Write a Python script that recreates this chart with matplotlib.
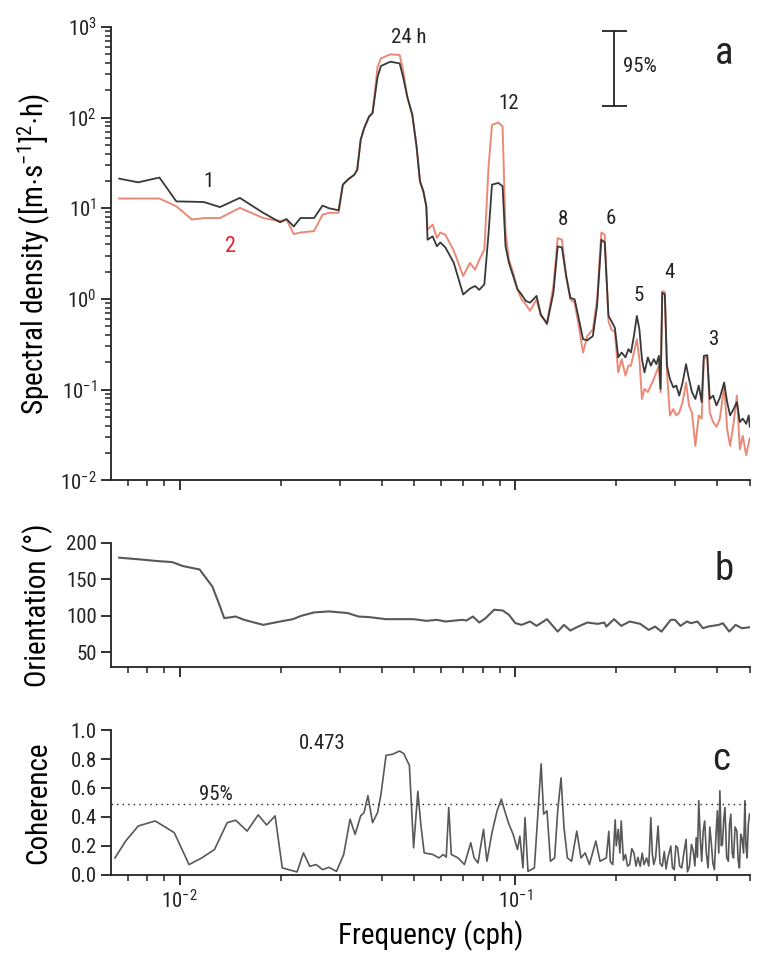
import numpy as np
import matplotlib
matplotlib.use("Agg")
import matplotlib.pyplot as plt
import matplotlib.font_manager as fm
from matplotlib.ticker import LogLocator, NullFormatter, MultipleLocator


def pick_narrow_font():
    # the original uses a condensed grotesque; take the narrowest face available
    names = {f.name for f in fm.fontManager.ttflist}
    for n in ["Liberation Sans Narrow", "Roboto Condensed", "Noto Sans Condensed",
              "Open Sans Condensed", "DejaVu Sans Condensed", "Arial Narrow"]:
        if n in names:
            return n, "normal"
    for n in ["Noto Sans", "Roboto", "Open Sans", "DejaVu Sans", "Liberation Sans"]:
        for f in fm.fontManager.ttflist:
            if (f.name == n and "condensed" in str(f.stretch) and f.style == "normal"
                    and f.weight in (400, "normal", "regular")):
                return n, f.stretch
    return "DejaVu Sans", "normal"


fam, stretch = pick_narrow_font()
plt.rcParams["font.family"] = [fam, "DejaVu Sans"]
plt.rcParams["font.stretch"] = stretch
spec = fam if stretch == "normal" else f"{fam}:stretch={stretch}"
plt.rcParams["mathtext.fontset"] = "custom"
plt.rcParams["mathtext.rm"] = spec
plt.rcParams["mathtext.it"] = spec
plt.rcParams["mathtext.bf"] = spec

# --- panel a: spectral density, series 1 (black) and 2 (red)
freq_a = [0.00660, 0.00752, 0.00870, 0.00977, 0.01088, 0.01180, 0.01318, 0.01511, 0.01773, 0.01992,
          0.02081, 0.02186, 0.02290, 0.02513, 0.02665, 0.02783, 0.02975,
          0.03063, 0.03171, 0.03313, 0.03381, 0.03461, 0.03543, 0.03669, 0.03755, 0.03887, 0.03979,
          0.04242, 0.04523, 0.04629, 0.04764, 0.04933, 0.05079, 0.05199, 0.05321, 0.05431,
          0.05478, 0.05673, 0.05840, 0.05977, 0.06190, 0.06559, 0.06994, 0.07327, 0.07588, 0.07811,
          0.08088, 0.08327, 0.08523, 0.08901, 0.09165, 0.09354, 0.09574, 0.09856, 0.1015, 0.1044,
          0.1075, 0.1107, 0.1157, 0.1191, 0.1243, 0.1299, 0.1338, 0.1377, 0.1418, 0.1459,
          0.1503, 0.1547, 0.1592, 0.1639, 0.1703, 0.1753, 0.1805, 0.1847,
          0.1896, 0.1935, 0.1981, 0.2027, 0.2075, 0.2130, 0.2174, 0.2212, 0.2257, 0.2303,
          0.2344, 0.2385, 0.2427, 0.2484, 0.2535, 0.2587, 0.2633, 0.2679, 0.2710, 0.2742,
          0.2791, 0.2832, 0.2890, 0.2958, 0.3019, 0.3081, 0.3153, 0.3228, 0.3294, 0.3362,
          0.3441, 0.3522, 0.3594, 0.3647, 0.3733, 0.3798, 0.3887, 0.3978, 0.4072, 0.4193,
          0.428, 0.4368, 0.4471, 0.4576, 0.4670, 0.4764, 0.4878, 0.4963, 0.5]

spec_1 = [21.2, 19.3, 21.8, 11.9, 11.8, 11.7, 10.3, 13.0, 8.9, 7.0,
          7.6, 6.3, 7.8, 7.8, 10.7, 10.0, 9.5,
          18.2, 20.7, 23.4, 26.6, 56.8, 76, 103, 112, 282, 370,
          412, 395, 282, 170, 107, 48, 19.8, 15.4, 10.5,
          4.5, 4.9, 3.8, 4.2, 3.7, 2.5, 1.12, 1.30, 1.39, 1.26,
          1.45, 5.4, 18.2, 19.0, 17.5, 3.8, 2.5, 1.79, 1.28, 1.12,
          0.95, 0.91, 1.08, 0.68, 0.53, 1.17, 3.8, 3.7, 1.79, 1.03,
          0.99, 0.60, 0.36, 0.35, 0.39, 0.84, 4.5, 4.2,
          0.65, 0.57, 0.48, 0.227, 0.257, 0.227, 0.28, 0.257, 0.39, 0.65,
          0.46, 0.217, 0.155, 0.227, 0.184, 0.217, 0.191, 0.236, 0.102, 1.17,
          1.12, 0.184, 0.131, 0.106, 0.111, 0.086, 0.120, 0.191, 0.131, 0.094,
          0.079, 0.111, 0.073, 0.236, 0.240, 0.079, 0.086, 0.067, 0.082, 0.120,
          0.073, 0.052, 0.061, 0.073, 0.044, 0.048, 0.042, 0.052, 0.039]

spec_2 = [12.8, 12.8, 12.8, 10.5, 7.5, 7.8, 7.8, 10.1, 7.8, 7.2,
          7.5, 5.2, 5.4, 5.6, 8.5, 8.9, 8.9,
          18.2, 20.7, 23.4, 26.6, 56.8, 76, 103, 112, 363, 449,
          497, 489, 334, 170, 107, 48, 19.8, 15.4, 10.5,
          5.8, 6.6, 4.7, 5.4, 5.1, 3.4, 1.79, 2.5, 2.1, 2.7,
          3.5, 29, 83, 88, 80, 5.4, 2.7, 1.95, 1.28, 0.99,
          0.87, 0.74, 0.99, 0.65, 0.55, 1.39, 4.7, 4.5, 1.79, 0.99,
          0.91, 0.50, 0.257, 0.39, 0.46, 0.99, 5.4, 5.1,
          0.57, 0.46, 0.43, 0.155, 0.217, 0.143, 0.184, 0.184, 0.257, 0.36,
          0.217, 0.079, 0.102, 0.094, 0.111, 0.131, 0.155, 0.184, 0.094, 1.22,
          1.19, 0.155, 0.052, 0.061, 0.052, 0.056, 0.073, 0.120, 0.067, 0.056,
          0.024, 0.052, 0.048, 0.217, 0.236, 0.056, 0.044, 0.039, 0.048, 0.111,
          0.037, 0.024, 0.042, 0.086, 0.022, 0.031, 0.019, 0.026, 0.029]

# 95% confidence bar (spectral density units)
ci_low, ci_high = 134, 896

# --- panel b: orientation
freq_b = [0.00660, 0.00763, 0.00857, 0.00949, 0.01021, 0.01146, 0.01251, 0.01307, 0.01357, 0.01468,
          0.01556, 0.01773, 0.01992, 0.02174, 0.02303, 0.02513, 0.02783, 0.03171, 0.03411, 0.03669,
          0.04120, 0.04977, 0.05431, 0.05840, 0.06190, 0.06951, 0.07156, 0.07476, 0.07811, 0.08159,
          0.08648, 0.09165, 0.09574, 0.1000, 0.1044, 0.1107, 0.1157, 0.1243, 0.1338, 0.1397,
          0.1459, 0.1525, 0.1639, 0.1763, 0.1842, 0.1868, 0.1969, 0.2069, 0.2192, 0.2357,
          0.2499, 0.2611, 0.2727, 0.2907, 0.2992, 0.3107, 0.3245, 0.3342, 0.3491, 0.3625,
          0.3754, 0.4037, 0.4156, 0.4342, 0.4536, 0.4738, 0.5]
orientation = [179.4, 177, 174.8, 173.4, 168, 163.3, 140, 117.4, 96.8, 99,
               94.5, 87.6, 92.2, 95.4, 100, 104.6, 106, 103.7, 99, 98.2,
               95.4, 95.4, 93.1, 94.5, 92.2, 94.5, 93.6, 99, 90.8, 96.8,
               108.3, 107.3, 101.4, 90, 87.6, 92.2, 86.2, 95.4, 78.4, 87.6,
               79.8, 84.4, 90.8, 89, 90.8, 85.3, 95.4, 86.2, 92.2, 89,
               80.7, 85.3, 78.4, 94.5, 94.5, 86.2, 92.2, 89.9, 92.2, 83,
               85.3, 87.6, 89.9, 78.4, 87.6, 83, 84.4]

# --- panel c: coherence
freq_c = [0.00641, 0.00690, 0.00752, 0.00845, 0.00963, 0.01066, 0.01163, 0.01269, 0.01385, 0.01468,
          0.01588, 0.01713, 0.01815, 0.01924, 0.02021, 0.02237, 0.02337, 0.02441, 0.02550, 0.02665,
          0.02783, 0.02932, 0.03081, 0.03218, 0.03332, 0.03461, 0.03543, 0.03637, 0.03755, 0.03887,
          0.03979, 0.04120, 0.04303, 0.04523, 0.04656, 0.04835, 0.04977, 0.05124, 0.05229, 0.05352,
          0.05673, 0.05925, 0.06100, 0.06226, 0.06335, 0.06446, 0.06753, 0.07055, 0.07368, 0.07541,
          0.07744, 0.07857, 0.08042, 0.08231, 0.08523, 0.08826, 0.09087, 0.09300, 0.09574, 0.09856,
          0.1015, 0.1032, 0.1054, 0.1069, 0.1091, 0.1140, 0.1173, 0.1194, 0.1215, 0.1243,
          0.1273, 0.1310, 0.1338, 0.1369, 0.1397, 0.1430, 0.1472, 0.1525, 0.1570, 0.1616,
          0.1663, 0.1738, 0.1789,
          0.1868, 0.1900, 0.1920, 0.1952, 0.1985, 0.2000, 0.2027, 0.2050, 0.2069, 0.2100,
          0.2130, 0.2160, 0.2192, 0.2225, 0.2257, 0.2290, 0.2320, 0.2357, 0.2390, 0.2420,
          0.2462, 0.2500, 0.2535, 0.2560, 0.2587, 0.2620, 0.2664, 0.2700, 0.2742, 0.2780,
          0.2815, 0.2849, 0.2907, 0.2940, 0.2976, 0.3010, 0.3046, 0.3090, 0.3135, 0.3180,
          0.3228, 0.3260, 0.3304, 0.3350, 0.3392, 0.3430, 0.3461, 0.3490, 0.3522, 0.3560,
          0.3594, 0.3630, 0.3668, 0.3710, 0.3754, 0.3800, 0.3842, 0.3880, 0.3921, 0.3960,
          0.4002, 0.4040, 0.4072, 0.4110, 0.4144, 0.4180, 0.4217, 0.4265, 0.4314, 0.4350,
          0.4390, 0.4430, 0.4471, 0.4520, 0.4576, 0.4615, 0.4656, 0.4700, 0.4738, 0.4790,
          0.4835, 0.4870, 0.4906, 0.4950, 0.4991]
coherence = [0.116, 0.233, 0.337, 0.372, 0.291, 0.070, 0.116, 0.174, 0.360, 0.377,
             0.302, 0.414, 0.344, 0.407, 0.047, 0.019, 0.151, 0.058, 0.070, 0.035,
             0.051, 0.023, 0.140, 0.384, 0.279, 0.407, 0.430, 0.547, 0.360, 0.430,
             0.558, 0.826, 0.833, 0.856, 0.837, 0.756, 0.186, 0.577, 0.349, 0.151,
             0.140, 0.116, 0.140, 0.121, 0.465, 0.140, 0.116, 0.070, 0.221, 0.116,
             0.081, 0.174, 0.314, 0.093, 0.291, 0.442, 0.523, 0.442, 0.349, 0.279,
             0.174, 0.267, 0.047, 0.395, 0.023, 0.047, 0.488, 0.767, 0.419, 0.442,
             0.093, 0.116, 0.442, 0.670, 0.326, 0.116, 0.093, 0.302, 0.116, 0.151,
             0.070, 0.233, 0.093,
             0.116, 0.300, 0.090, 0.070, 0.380, 0.200, 0.314, 0.150, 0.372, 0.100,
             0.140, 0.060, 0.070, 0.180, 0.151, 0.060, 0.120, 0.058, 0.150, 0.070,
             0.116, 0.060, 0.395, 0.150, 0.070, 0.120, 0.337, 0.080, 0.058, 0.160,
             0.040, 0.116, 0.198, 0.050, 0.035, 0.200, 0.186, 0.060, 0.047, 0.150,
             0.244, 0.020, 0.058, 0.210, 0.163, 0.060, 0.256, 0.120, 0.512, 0.250,
             0.093, 0.300, 0.372, 0.150, 0.047, 0.330, 0.209, 0.080, 0.035, 0.250,
             0.442, 0.150, 0.581, 0.200, 0.209, 0.380, 0.465, 0.120, 0.093, 0.350,
             0.419, 0.150, 0.116, 0.330, 0.302, 0.100, 0.047, 0.280, 0.256, 0.150,
             0.512, 0.200, 0.116, 0.350, 0.419]
coh_95 = 0.49

fmin, fmax = 0.00625, 0.5
dark = "#383838"
salmon = "#ea8a76"
grey = "#585858"
ink = "#222222"

fig = plt.figure(figsize=(7.62, 9.57), dpi=100)
ax_a = fig.add_axes([0.146, 0.498, 0.838, 0.474])
ax_b = fig.add_axes([0.146, 0.303, 0.838, 0.130])
ax_c = fig.add_axes([0.146, 0.086, 0.838, 0.151])

for ax in (ax_a, ax_b, ax_c):
    ax.set_xscale("log")
    ax.set_xlim(fmin, fmax)
    for s in ("top", "right"):
        ax.spines[s].set_visible(False)
    for s in ("left", "bottom"):
        ax.spines[s].set_linewidth(1.3)
        ax.spines[s].set_color(ink)
    ax.tick_params(which="major", direction="out", length=7, width=1.3, labelsize=15, colors=ink)
    ax.tick_params(which="minor", direction="out", length=4, width=1.1, colors=ink)
    ax.xaxis.set_minor_locator(LogLocator(base=10, subs=np.arange(2, 10)))
    ax.xaxis.set_minor_formatter(NullFormatter())

# panel a
ax_a.plot(freq_a, spec_2, color=salmon, lw=1.4)
ax_a.plot(freq_a, spec_1, color=dark, lw=1.3)
ax_a.set_yscale("log")
ax_a.set_ylim(1e-2, 1e3)
ax_a.yaxis.set_minor_locator(LogLocator(base=10, subs=np.arange(2, 10)))
ax_a.yaxis.set_minor_formatter(NullFormatter())
ax_a.tick_params(axis="x", labelbottom=False)
ax_a.set_ylabel(r"Spectral density ([m$\cdot$s$^{-1}$]$^{2}$$\cdot$h)", fontsize=21)
ax_a.yaxis.set_label_coords(-0.092, 0.5)

ci_mid = np.sqrt(ci_low * ci_high)
ax_a.errorbar([0.1968], [ci_mid], yerr=[[ci_mid - ci_low], [ci_high - ci_mid]],
              color=ink, lw=1.3, capsize=9, capthick=1.3)
ax_a.text(0.2358, 363, "95%", fontsize=15, ha="center", va="center", color=ink)

peak_labels = [("24 h", 0.0481, 763), ("12", 0.0957, 141), ("8", 0.139, 7.6), ("6", 0.1923, 7.8),
               ("5", 0.2339, 1.08), ("4", 0.289, 1.98), ("3", 0.392, 0.354), ("1", 0.01222, 19.8)]
for txt, fx, fy in peak_labels:
    ax_a.text(fx, fy, txt, fontsize=15, ha="center", va="center", color=ink)
ax_a.text(0.01413, 3.76, "2", fontsize=16, ha="center", va="center", color="#e8202a")
ax_a.text(0.419, 509, "a", fontsize=28, ha="center", va="center", color=ink)

# panel b
ax_b.plot(freq_b, orientation, color=grey, lw=1.5)
ax_b.set_ylim(30, 200)
ax_b.set_yticks([50, 100, 150, 200])
ax_b.tick_params(axis="x", labelbottom=False)
ax_b.set_ylabel("Orientation (°)", fontsize=21)
ax_b.yaxis.set_label_coords(-0.092, 0.5)
ax_b.text(0.419, 163, "b", fontsize=28, ha="center", va="center", color=ink)

# panel c
ax_c.plot(freq_c, coherence, color=grey, lw=1.2)
ax_c.axhline(coh_95, color=ink, lw=1.0, ls=(0, (1, 3)))
ax_c.set_ylim(0, 1.0)
ax_c.yaxis.set_major_locator(MultipleLocator(0.2))
ax_c.yaxis.set_major_formatter(plt.FuncFormatter(lambda v, p: f"{v:.1f}"))
ax_c.set_ylabel("Coherence", fontsize=21)
ax_c.yaxis.set_label_coords(-0.092, 0.5)
ax_c.set_xlabel("Frequency (cph)", fontsize=21, labelpad=6)
ax_c.text(0.02664, 0.907, "0.473", fontsize=15, ha="center", va="center", color=ink)
ax_c.text(0.0128, 0.553, "95%", fontsize=15, ha="center", va="center", color=ink)
ax_c.text(0.412, 0.80, "c", fontsize=28, ha="center", va="center", color=ink)

fig.savefig("out.png", dpi=100)
